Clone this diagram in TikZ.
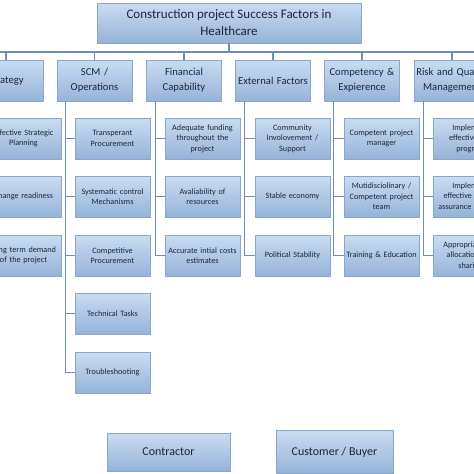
\documentclass[tikz,border=0pt]{standalone}
\usepackage{fontspec}
\setmainfont{Carlito}
\definecolor{boxtop}{HTML}{C9DCF2}
\definecolor{boxbot}{HTML}{95B3D8}
\definecolor{boxline}{HTML}{8AA6C8}
\definecolor{conn}{HTML}{6A8FBA}
\definecolor{txt}{HTML}{1A263E}
\begin{document}
\begin{tikzpicture}[x=1pt,y=-1pt,
  boxbase/.style={rectangle, draw=boxline, line width=0.8pt, top color=boxtop, bottom color=boxbot, text=txt, align=center, inner sep=1pt},
  titlebox/.style={boxbase, minimum width=264pt, minimum height=40pt, font=\fontsize{13}{17}\selectfont},
  headbox/.style={boxbase, minimum width=75pt, minimum height=41pt, text width=73pt, font=\fontsize{10.6}{15}\selectfont},
  itembox/.style={boxbase, minimum width=74.5pt, minimum height=41pt, text width=73pt, font=\fontsize{8.2}{10.5}\selectfont},
  bigbox/.style={boxbase, font=\fontsize{12}{14}\selectfont},
  link/.style={draw=conn, line width=1.2pt}]
\useasboundingbox (0,0) rectangle (474,474);
\fill[white] (0,0) rectangle (474,474);

\node[titlebox] (top) at (229,23) {Construction project Success Factors in\\Healthcare};
\coordinate (busL) at (-40,52);
\coordinate (busR) at (520,52);

\node[headbox] (h1) at (6,80.5) {Strategy};
\node[headbox] (h2) at (94.5,80.5) {SCM /\\Operations};
\node[headbox] (h3) at (184,80.5) {Financial\\Capability};
\node[headbox] (h4) at (273,80.5) {External Factors};
\node[headbox] (h5) at (362,80.5) {Competency \&\\Expierence};
\node[headbox] (h6) at (452,80.5) {Risk and Quality\\Management};

% Strategy
\node[itembox] (s1) at (23.5,138.5) {Effective Strategic\\Planning};
\node[itembox] (s2) at (23.5,196.5) {Change readiness};
\node[itembox] (s3) at (23.5,255.5) {Long term demand\\of the project};
% SCM
\node[itembox] (o1) at (112.5,138.5) {Transperant\\Procurement};
\node[itembox] (o2) at (112.5,196.5) {Systematic control\\Mechanisms};
\node[itembox] (o3) at (112.5,255.5) {Competitive\\Procurement};
\node[itembox] (o4) at (112.5,313.5) {Technical Tasks};
\node[itembox] (o5) at (112.5,372.5) {Troubleshooting};
% Financial
\node[itembox] (f1) at (202.5,138.5) {Adequate funding\\throughout the\\project};
\node[itembox] (f2) at (202.5,196.5) {Avaliability of\\resources};
\node[itembox] (f3) at (202.5,255.5) {Accurate intial costs\\estimates};
% External
\node[itembox] (e1) at (292.5,138.5) {Community\\Involovement /\\Support};
\node[itembox] (e2) at (292.5,196.5) {Stable economy};
\node[itembox] (e3) at (292.5,255.5) {Political Stability};
% Competency
\node[itembox] (c1) at (381.5,138.5) {Competent project\\manager};
\node[itembox] (c2) at (381.5,196.5) {Mutidisciolinary /\\Competent project\\team};
\node[itembox] (c3) at (381.5,255.5) {Training \& Education};
% Risk
\node[itembox] (r1) at (470.5,138.5) {Implement\\effective risk\\program};
\node[itembox] (r2) at (470.5,196.5) {Implement\\effective quality\\assurance program};
\node[itembox] (r3) at (470.5,255.5) {Appropriate risk\\allocation and\\sharing};

\node[bigbox, minimum width=123pt, minimum height=38pt] (con) at (168.5,452) {Contractor};
\node[bigbox, minimum width=117pt, minimum height=43pt] (cus) at (334.5,452) {Customer / Buyer};

% connectors
\draw[link] (busL) -- (busR);
\draw[link] (top.south) -- (top.south |- busL);
\foreach \h in {h1,h2,h3,h4,h5,h6}{
  \draw[link] (\h.north) -- (\h.north |- busL);
}
\foreach \h/\kids in {h1/{s1,s2,s3}, h2/{o1,o2,o3,o4,o5}, h3/{f1,f2,f3}, h4/{e1,e2,e3}, h5/{c1,c2,c3}, h6/{r1,r2,r3}}{
  \foreach \k in \kids {
    \draw[link] ([xshift=9pt]\h.south west) |- (\k.west);
  }
}
\end{tikzpicture}
\end{document}
